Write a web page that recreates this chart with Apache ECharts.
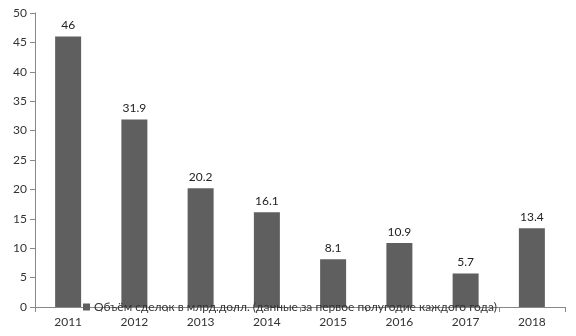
<!DOCTYPE html>
<html><head><meta charset="utf-8">
<script src="https://cdn.jsdelivr.net/npm/echarts@6/dist/echarts.min.js"></script>
<style>html,body{margin:0;padding:0;background:#fff}#c{width:576px;height:336px}</style>
</head><body><div id="c"></div>
<script>
const categories = ['2011','2012','2013','2014','2015','2016','2017','2018'];
const values = [46, 31.9, 20.2, 16.1, 8.1, 10.9, 5.7, 13.4];
const seriesName = 'Объём сделок в млрд.долл. (данные за первое полугодие каждого года)';
const chart = echarts.init(document.getElementById('c'));
chart.setOption({
  animation: false,
  textStyle: {fontFamily: 'Lato'},
  grid: {left: 35, right: 11, top: 13, bottom: 29},
  legend: {
    data: [seriesName], left: 78, top: 296, itemWidth: 7, itemHeight: 7, itemGap: 4,
    icon: 'rect',
    textStyle: {fontSize: 12, color: '#333', fontFamily: 'Lato', padding: [0,0,0,-1]}
  },
  xAxis: {
    type: 'category', data: categories,
    axisLine: {lineStyle: {color: '#888'}},
    axisTick: {show: true, length: 5, lineStyle: {color: '#888'}},
    axisLabel: {color: '#333', fontSize: 12, margin: 9}
  },
  yAxis: {
    type: 'value', min: 0, max: 50, interval: 5,
    axisLine: {show: true, lineStyle: {color: '#888'}},
    axisTick: {show: true, length: 5, lineStyle: {color: '#888'}},
    splitLine: {show: false},
    axisLabel: {color: '#333', fontSize: 12, margin: 8}
  },
  series: [{
    name: seriesName, type: 'bar', data: values, barWidth: 26,
    itemStyle: {color: '#5f5f5f'},
    label: {show: true, position: 'top', distance: 5, color: '#222', fontSize: 12, fontFamily: 'Lato'}
  }]
});
</script></body></html>
